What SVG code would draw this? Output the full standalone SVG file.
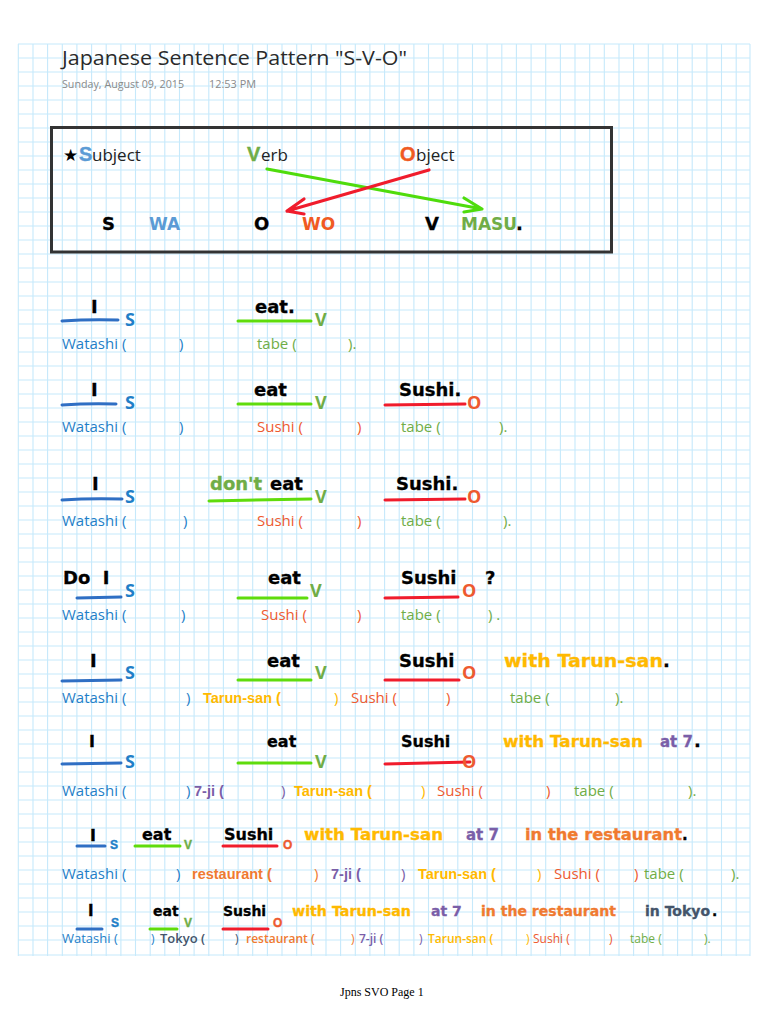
<svg xmlns="http://www.w3.org/2000/svg" width="768" height="1024" viewBox="0 0 768 1024">
<style>
text{font-family:"Open Sans","Liberation Sans",sans-serif;white-space:pre}
.g{stroke:#c6e9fb;stroke-width:1.1;fill:none}
.k{font-family:"DejaVu Sans",sans-serif;font-weight:700;font-size:18px;fill:#000;stroke:#000;stroke-width:.3}
.l{font-size:15px}
.t{font-weight:700;font-size:18px}
.m{font-family:"Liberation Sans",sans-serif;font-weight:700;stroke-width:.4}
.h{font-family:"DejaVu Sans",sans-serif;font-weight:700;font-size:17px}
.b{fill:#1f7fc8;stroke:#1f7fc8}.gr{fill:#70ad47;stroke:#70ad47}.r{fill:#ee5a30;stroke:#ee5a30}.y{fill:#ffb900;stroke:#ffb900}.p{fill:#7a5ea8;stroke:#7a5ea8}.o{fill:#f07a30;stroke:#f07a30}.n{fill:#44546a;stroke:#44546a}
.l.b,.l.gr,.l.r,.l.y,.l.p,.l.o,.l.n,.t{stroke:none}
.sl{fill:none;stroke:#2f6fc4;stroke-width:3;stroke-linecap:round}.vl{fill:none;stroke:#5fdc0c;stroke-width:3;stroke-linecap:round}.ol{fill:none;stroke:#f01c2c;stroke-width:3;stroke-linecap:round}
</style>
<g id="grid"><path class="g" d="M18.3 44V956M33 44V956M47.6 44V956M62.3 44V956M76.9 44V956M91.6 44V956M106.2 44V956M120.9 44V956M135.5 44V956M150.2 44V956M164.8 44V956M179.5 44V956M194.1 44V956M208.8 44V956M223.4 44V956M238.1 44V956M252.7 44V956M267.4 44V956M282 44V956M296.7 44V956M311.3 44V956M326 44V956M340.6 44V956M355.3 44V956M369.9 44V956M384.6 44V956M399.2 44V956M413.9 44V956M428.5 44V956M443.2 44V956M457.8 44V956M472.5 44V956M487.1 44V956M501.8 44V956M516.4 44V956M531.1 44V956M545.7 44V956M560.4 44V956M575 44V956M589.7 44V956M604.3 44V956M619 44V956M633.6 44V956M648.3 44V956M662.9 44V956M677.6 44V956M692.2 44V956M706.9 44V956M721.5 44V956M736.2 44V956M750 44V956"/>
<path class="g" d="M18 44H750M18 58H750M18 72H750M18 86H750M18 100H750M18 114H750M18 128H750M18 142H750M18 156H750M18 170H750M18 184H750M18 198H750M18 212H750M18 226H750M18 240H750M18 254H750M18 268H750M18 282H750M18 296H750M18 310H750M18 324H750M18 338H750M18 352H750M18 366H750M18 380H750M18 394H750M18 408H750M18 422H750M18 436H750M18 450H750M18 464H750M18 478H750M18 492H750M18 506H750M18 520H750M18 534H750M18 548H750M18 562H750M18 576H750M18 590H750M18 604H750M18 618H750M18 632H750M18 646H750M18 660H750M18 674H750M18 688H750M18 702H750M18 716H750M18 730H750M18 744H750M18 758H750M18 772H750M18 786H750M18 800H750M18 814H750M18 828H750M18 842H750M18 856H750M18 870H750M18 884H750M18 898H750M18 912H750M18 926H750M18 940H750M18 955H750"/></g>
<g id="title">
<text x="62" y="65" font-size="20.5" fill="#2a2a2a" textLength="345" lengthAdjust="spacingAndGlyphs">Japanese Sentence Pattern "S-V-O"</text>
<text x="62" y="88" font-size="11" fill="#8a8a8a" textLength="122" lengthAdjust="spacingAndGlyphs">Sunday, August 09, 2015</text>
<text x="209" y="88" font-size="11" fill="#8a8a8a" textLength="47" lengthAdjust="spacingAndGlyphs">12:53 PM</text>
</g>
<g id="box">
<rect x="51.5" y="127.5" width="560" height="124.5" fill="none" stroke="#333" stroke-width="3"/>
<text x="63" y="161" style="font-family:'DejaVu Sans',sans-serif;font-size:17px" fill="#000">★</text>
<text x="79" y="161" class="m" font-size="20" fill="#5b9bd5" stroke="#5b9bd5">S</text><text x="92" y="161" font-size="17" fill="#222">ubject</text>
<text x="247" y="161" class="m" font-size="20" fill="#70ad47" stroke="#70ad47">V</text><text x="261" y="161" font-size="17" fill="#222">erb</text>
<text x="400" y="161" class="m" font-size="20" fill="#f05a22" stroke="#f05a22">O</text><text x="416" y="161" font-size="17" fill="#222">bject</text>
<text x="102" y="230" class="k">S</text>
<text x="149" y="230" class="h" fill="#5b9bd5">WA</text>
<text x="254" y="230" class="k">O</text>
<text x="302" y="230" class="h" fill="#f05a22">WO</text>
<text x="425" y="230" class="k">V</text>
<text x="461" y="230" class="h" fill="#70ad47">MASU</text><text x="516" y="230" class="k">.</text>
</g>
<g id="connectors">
<path d="M267 169L482 209M464 198L482 209L464 212" fill="none" stroke="#4fdc0c" stroke-width="3.2" stroke-linecap="round" stroke-linejoin="round"/>
<path d="M429 170L287 211M304 199L287 211L304 214" fill="none" stroke="#f01c2c" stroke-width="3.2" stroke-linecap="round" stroke-linejoin="round"/>
<path class="sl" d="M62 321Q90 319 118 320"/><path class="vl" d="M238 321H311"/>
<path class="sl" d="M62 405Q90 403 116 404"/><path class="vl" d="M238 404H311"/><path class="ol" d="M385 405L465 404"/>
<path class="sl" d="M62 500Q90 498 122 499"/><path class="vl" d="M209 501L311 499"/><path class="ol" d="M385 500L465 499"/>
<path class="sl" d="M77 598L121 597"/><path class="vl" d="M238 598H307"/><path class="ol" d="M385 598L458 597"/>
<path class="sl" d="M62 681L121 680"/><path class="vl" d="M238 680H311"/><path class="ol" d="M385 680L459 680"/>
<path class="sl" d="M62 764L121 763"/><path class="vl" d="M238 763H311"/><path class="ol" d="M385 764L470 762"/>
<path class="sl" d="M77 846H105"/><path class="vl" d="M135 846H180"/><path class="ol" d="M223 846H277"/>
<path class="sl" d="M77 929H102"/><path class="vl" d="M150 929H177"/><path class="ol" d="M223 929H268"/>
</g>
<g id="row1">
<text class="k" x="91" y="313">I</text><text class="t b" x="125" y="326">S</text><text class="k" x="255" y="313">eat.</text><text class="t gr" x="315" y="326">V</text>
<text class="l b" x="62" y="349">Watashi (</text><text class="l b" x="179" y="349">)</text><text class="l gr" x="257" y="349">tabe (</text><text class="l gr" x="348" y="349">).</text>
</g>
<g id="row2">
<text class="k" x="91" y="396">I</text><text class="t b" x="125" y="409">S</text><text class="k" x="254" y="396">eat</text><text class="t gr" x="315" y="409">V</text><text class="k" x="399" y="396">Sushi.</text><text class="t r" x="467" y="409">O</text>
<text class="l b" x="62" y="432">Watashi (</text><text class="l b" x="179" y="432">)</text><text class="l r" x="257" y="432">Sushi (</text><text class="l r" x="357" y="432">)</text><text class="l gr" x="401" y="432">tabe (</text><text class="l gr" x="499" y="432">).</text>
</g>
<g id="row3">
<text class="k" x="92" y="490">I</text><text class="t b" x="125" y="503">S</text><text class="k gr" x="210" y="490">don't</text><text class="k" x="270" y="490">eat</text><text class="t gr" x="315" y="503">V</text><text class="k" x="396" y="490">Sushi.</text><text class="t r" x="467" y="503">O</text>
<text class="l b" x="62" y="526">Watashi (</text><text class="l b" x="183" y="526">)</text><text class="l r" x="257" y="526">Sushi (</text><text class="l r" x="357" y="526">)</text><text class="l gr" x="401" y="526">tabe (</text><text class="l gr" x="503" y="526">).</text>
</g>
<g id="row4">
<text class="k" x="63" y="584">Do  I</text><text class="t b" x="125" y="597">S</text><text class="k" x="268" y="584">eat</text><text class="t gr" x="310" y="597">V</text><text class="k" x="401" y="584">Sushi</text><text class="t r" x="462" y="597">O</text><text class="k" x="485" y="584">?</text>
<text class="l b" x="62" y="620">Watashi (</text><text class="l b" x="181" y="620">)</text><text class="l r" x="261" y="620">Sushi (</text><text class="l r" x="357" y="620">)</text><text class="l gr" x="401" y="620">tabe (</text><text class="l gr" x="488" y="620">) .</text>
</g>
<g id="row5">
<text class="k" x="90" y="667">I</text><text class="t b" x="125" y="679">S</text><text class="k" x="267" y="667">eat</text><text class="t gr" x="315" y="679">V</text><text class="k" x="399" y="667">Sushi</text><text class="t r" x="462" y="679">O</text><text class="k y" x="504" y="667" textLength="159" lengthAdjust="spacingAndGlyphs">with Tarun-san</text><text class="k" x="663" y="667">.</text>
<text class="l b" x="62" y="703">Watashi (</text><text class="l b" x="186" y="703">)</text><text class="l y m" x="203" y="703" style="font-size:14.5px">Tarun-san (</text><text class="l y" x="334" y="703">)</text><text class="l r" x="351" y="703">Sushi (</text><text class="l r" x="446" y="703">)</text><text class="l gr" x="510" y="703">tabe (</text><text class="l gr" x="615" y="703">).</text>
</g>
<g id="row6">
<text class="k" x="89" y="747" style="font-size:16px">I</text><text class="t b" x="125" y="768">S</text><text class="k" style="font-size:16px" x="267" y="747">eat</text><text class="t gr" x="315" y="768">V</text><text class="k" style="font-size:16px" x="401" y="747">Sushi</text><text class="t r" x="462" y="768">O</text><text class="k y" style="font-size:15px" x="503" y="747" textLength="140" lengthAdjust="spacingAndGlyphs">with Tarun-san</text><text class="k p" style="font-size:15px" x="660" y="747">at 7</text><text class="k" x="694" y="747">.</text>
<text class="l b" x="62" y="796">Watashi (</text><text class="l b" x="186" y="796">)</text><text class="l p m" x="194" y="796" style="font-size:14.5px">7-ji (</text><text class="l p" x="281" y="796">)</text><text class="l y m" x="294" y="796" style="font-size:14.5px">Tarun-san (</text><text class="l y" x="421" y="796">)</text><text class="l r" x="437" y="796">Sushi (</text><text class="l r" x="546" y="796">)</text><text class="l gr" x="574" y="796">tabe (</text><text class="l gr" x="688" y="796">).</text>
</g>
<g id="row7">
<text class="k" x="90" y="841" style="font-size:16px">I</text><text class="m b" x="110" y="849" font-size="12">S</text><text class="k" style="font-size:16px" x="142" y="840">eat</text><text class="m gr" x="184" y="849" font-size="12">V</text><text class="k" style="font-size:16px" x="224" y="840">Sushi</text><text class="m r" x="283" y="849" font-size="12">O</text><text class="k y" style="font-size:15px" x="304" y="840" textLength="139" lengthAdjust="spacingAndGlyphs">with Tarun-san</text><text class="k p" style="font-size:15px" x="466" y="840">at 7</text><text class="k o" style="font-size:15px" x="525" y="840" textLength="157" lengthAdjust="spacingAndGlyphs">in the restaurant</text><text class="k" x="682" y="840" style="font-size:15px">.</text>
<text class="l b" x="62" y="879">Watashi (</text><text class="l b" x="176" y="879">)</text><text class="l o m" x="192" y="879" style="font-size:14.5px">restaurant (</text><text class="l o" x="314" y="879">)</text><text class="l p m" x="331" y="879" style="font-size:14.5px">7-ji (</text><text class="l p" x="401" y="879">)</text><text class="l y m" x="418" y="879" style="font-size:14.5px">Tarun-san (</text><text class="l y" x="537" y="879">)</text><text class="l r" x="554" y="879">Sushi (</text><text class="l r" x="634" y="879">)</text><text class="l gr" x="644" y="879">tabe (</text><text class="l gr" x="731" y="879">).</text>
</g>
<g id="row8">
<text class="k" x="88" y="916" style="font-size:15px">I</text><text class="m b" x="111" y="926.5" font-size="12">S</text><text class="k" style="font-size:14px" x="153" y="916">eat</text><text class="m gr" x="184" y="926.5" font-size="12">V</text><text class="k" style="font-size:14px" x="223" y="916">Sushi</text><text class="m r" x="273" y="927" font-size="12">O</text><text class="k y" style="font-size:14px" x="292" y="916" textLength="119" lengthAdjust="spacingAndGlyphs">with Tarun-san</text><text class="k p" style="font-size:14px" x="431" y="916">at 7</text><text class="k o" style="font-size:14px" x="481" y="916" textLength="135" lengthAdjust="spacingAndGlyphs">in the restaurant</text><text class="k n" style="font-size:14px" x="645" y="916">in Tokyo</text><text class="k" x="712" y="916" style="font-size:14px">.</text>
<text class="l b" x="62" y="943" style="font-size:13px">Watashi (</text><text class="l b" x="151" y="943" style="font-size:12px">)</text><text class="l n" x="160" y="943" style="font-size:13px;font-weight:600">Tokyo (</text><text class="l n" x="235" y="943" style="font-size:12px">)</text><text class="l o" x="246" y="943" style="font-size:12px;font-weight:600">restaurant (</text><text class="l o" x="351" y="943" style="font-size:12px">)</text><text class="l p" x="359" y="943" style="font-size:12px;font-weight:600">7-ji (</text><text class="l p" x="419" y="943" style="font-size:12px">)</text><text class="l y" x="428" y="943" style="font-size:12px;font-weight:600">Tarun-san (</text><text class="l y" x="526" y="943" style="font-size:12px">)</text><text class="l r" x="533" y="943" style="font-size:12px">Sushi (</text><text class="l r" x="609" y="943" style="font-size:12px">)</text><text class="l gr" x="630" y="943" style="font-size:12px">tabe (</text><text class="l gr" x="704" y="943" style="font-size:12px">).</text>
</g>
<text id="footer" x="340" y="996" style="font-family:'Liberation Serif',serif;font-size:12px" fill="#000">Jpns SVO Page 1</text>
</svg>
